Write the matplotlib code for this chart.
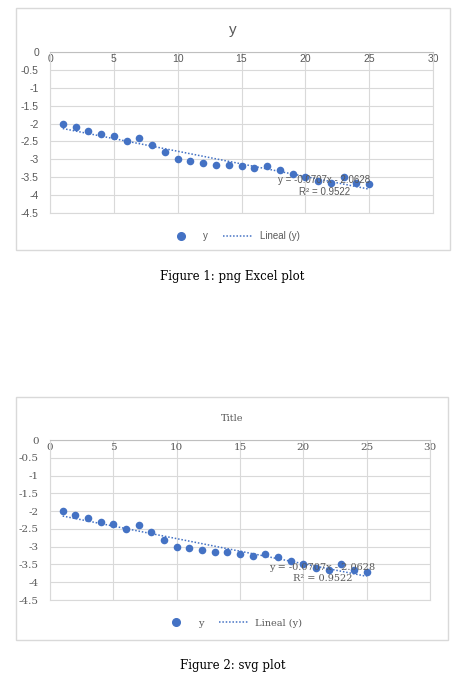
import numpy as np
import matplotlib
matplotlib.use("Agg")
import matplotlib.pyplot as plt
from matplotlib.patches import Rectangle
from matplotlib.lines import Line2D

x_vals = list(range(1, 26))
y_vals = [-2.0, -2.1, -2.2, -2.3, -2.35, -2.5, -2.4, -2.6, -2.8, -3.0, -3.05, -3.1, -3.15,
          -3.15, -3.2, -3.25, -3.2, -3.3, -3.4, -3.5, -3.6, -3.65, -3.5, -3.65, -3.7]
x_ticks = [0, 5, 10, 15, 20, 25, 30]
y_ticks = [0, -0.5, -1, -1.5, -2, -2.5, -3, -3.5, -4, -4.5]
eq_text = "y = -0.0707x - 2.0628\nR² = 0.9522"

W, H = 474, 685
fig = plt.figure(figsize=(W/100, H/100), dpi=100)
BLUE = "#4472C4"
GRAY = "#595959"

slope, icpt = np.polyfit(x_vals, y_vals, 1)
yp = np.polyval([slope, icpt], x_vals)

def chart(box, plot, title, fam, tsize, caption, cap_y):
    bx0, by0, bx1, by1 = box
    fig.patches.append(Rectangle((bx0/W, 1-by1/H), (bx1-bx0)/W, (by1-by0)/H,
                                 transform=fig.transFigure, fill=False, ec="#d9d9d9", lw=1))
    px0, py0, px1, py1 = plot
    ax = fig.add_axes([px0/W, 1-py1/H, (px1-px0)/W, (py1-py0)/H])
    ax.set_xlim(0, 30); ax.set_ylim(-4.5, 0)
    ax.set_xticks(x_ticks); ax.set_yticks(y_ticks)
    ax.set_xticklabels([str(t) for t in x_ticks], family=fam, fontsize=7.5, color=GRAY)
    ax.set_yticklabels([f"{t:g}" for t in y_ticks], family=fam, fontsize=7.5, color=GRAY)
    ax.tick_params(axis="x", top=True, labeltop=True, bottom=False, labelbottom=False, pad=-9, length=0)
    ax.tick_params(axis="y", length=0, pad=8)
    ax.grid(True, color="#d9d9d9", lw=0.8)
    for s in ["left", "right", "bottom"]:
        ax.spines[s].set_color("#d9d9d9")
    ax.spines["top"].set_color("#bfbfbf")
    ax.plot(x_vals, yp, ls=(0, (1, 1.2)), color=BLUE, lw=1.1, zorder=3)
    ax.scatter(x_vals, y_vals, s=30, color=BLUE, zorder=4, lw=0)
    ax.text(21.5, -3.75, eq_text, ha="center", va="center",
            family=fam, fontsize=7, color=GRAY, linespacing=1.3, zorder=5)
    fig.text((bx0+bx1)/2/W, 1-(py0-22)/H, title, ha="center", va="center", family=fam,
             fontsize=tsize, color=GRAY)
    handles = [Line2D([], [], ls="none", marker="o", color=BLUE, ms=5.5),
               Line2D([], [], ls=(0, (1, 1.2)), color=BLUE, lw=1.1)]
    fig.legend(handles, ["y", "Lineal (y)"], loc="center", ncol=2, frameon=False,
               bbox_to_anchor=((bx0+bx1)/2/W, 1-(py1+23)/H), prop={"family": fam, "size": 7},
               labelcolor=GRAY, handlelength=3, columnspacing=1.5)
    fig.text(0.49, 1-cap_y/H, caption, ha="center", va="center", family="DejaVu Serif", fontsize=8.5)

chart((16, 8, 450, 250), (50, 52, 433, 213), "y", ["Liberation Sans"], 11,
      "Figure 1: png Excel plot", 277)
chart((16, 397, 448, 640), (50, 440, 430, 600), "Title", ["DejaVu Serif"], 7,
      "Figure 2: svg plot", 665)

fig.savefig("out.png", dpi=100)
